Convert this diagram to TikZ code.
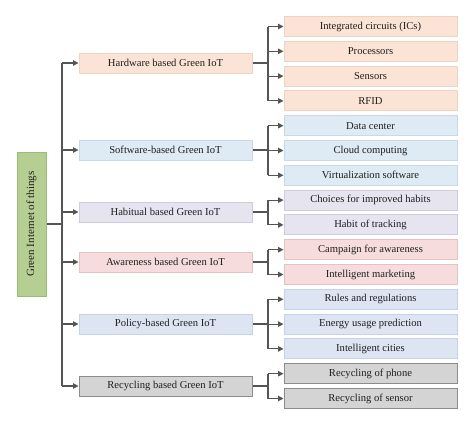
\documentclass[tikz,border=0pt]{standalone}
\usepackage{fontspec}
\setmainfont{Liberation Serif}
\usetikzlibrary{arrows.meta}
\definecolor{peachF}{HTML}{FBE4D5}\definecolor{peachD}{HTML}{EED3C0}
\definecolor{blueF}{HTML}{DEEAF4}\definecolor{blueD}{HTML}{C9D9E8}
\definecolor{lavF}{HTML}{E6E4EF}\definecolor{lavD}{HTML}{CFCCDD}
\definecolor{pinkF}{HTML}{F6DCDC}\definecolor{pinkD}{HTML}{E5C3C3}
\definecolor{polF}{HTML}{DDE5F2}\definecolor{polD}{HTML}{C6D2E5}
\definecolor{grayF}{HTML}{D4D4D4}\definecolor{grayD}{HTML}{8C8C8C}
\definecolor{greenF}{HTML}{B5CF93}\definecolor{greenD}{HTML}{9DBB77}
\definecolor{lineC}{HTML}{555555}
\tikzset{
  txt/.style={font=\fontsize{10.6}{12}\selectfont, text=black!88},
  box/.style={draw, line width=1pt, minimum height=20pt, inner sep=0pt, txt},
  midbox/.style={box, minimum width=173pt},
  leafbox/.style={box, minimum width=173pt},
  conn/.style={draw=lineC, line width=1.1pt},
  arr/.style={conn, -{Triangle[length=5.5pt,width=5.5pt]}},
  hw/.style={fill=peachF, draw=peachD},
  sw/.style={fill=blueF, draw=blueD},
  hb/.style={fill=lavF, draw=lavD},
  aw/.style={fill=pinkF, draw=pinkD},
  po/.style={fill=polF, draw=polD},
  rc/.style={fill=grayF, draw=grayD},
}
\begin{document}
\begin{tikzpicture}[x=1pt,y=-1pt]
\useasboundingbox (0,0) rectangle (474,426);
% root
\node[box, fill=greenF, draw=greenD, minimum width=29pt, minimum height=144pt] (root) at (31.5,224) {};
\node[rotate=90, font=\fontsize{11}{12}\selectfont, text=black!88] (roottxt) at (root.center) {Green Internet of things};
% trunk
\coordinate (tr) at (62,224);
\coordinate (tt) at (62,63);
\coordinate (tb) at (62,386);
\draw[conn] (root.east |- tr) -- (tr);
\draw[conn] (tt) -- (tb);
% mid nodes
\node[midbox, hw] (m1) at (165.5,63) {Hardware based Green IoT};
\node[midbox, sw] (m2) at (165.5,150) {Software-based Green IoT};
\node[midbox, hb] (m3) at (165.5,212) {Habitual based Green IoT};
\node[midbox, aw] (m4) at (165.5,262) {Awareness based Green IoT};
\node[midbox, po] (m5) at (165.5,324) {Policy-based Green IoT};
\node[midbox, rc] (m6) at (165.5,386) {Recycling based Green IoT};
\foreach \m in {m1,m2,m3,m4,m5,m6}{\draw[arr] (tt |- \m.west) -- (\m.west);}
% leaves
\node[leafbox, hw] (l1) at (370.5,26.5) {Integrated circuits (ICs)};
\node[leafbox, hw] (l2) at (370.5,51.3) {Processors};
\node[leafbox, hw] (l3) at (370.5,76.1) {Sensors};
\node[leafbox, hw] (l4) at (370.5,100.9) {RFID};
\node[leafbox, sw] (l5) at (370.5,125.7) {Data center};
\node[leafbox, sw] (l6) at (370.5,150.5) {Cloud computing};
\node[leafbox, sw] (l7) at (370.5,175.3) {Virtualization software};
\node[leafbox, hb] (l8) at (370.5,200.1) {Choices for improved habits};
\node[leafbox, hb] (l9) at (370.5,224.9) {Habit of tracking};
\node[leafbox, aw] (l10) at (370.5,249.7) {Campaign for awareness};
\node[leafbox, aw] (l11) at (370.5,274.5) {Intelligent marketing};
\node[leafbox, po] (l12) at (370.5,299.3) {Rules and regulations};
\node[leafbox, po] (l13) at (370.5,324.1) {Energy usage prediction};
\node[leafbox, po] (l14) at (370.5,348.9) {Intelligent cities};
\node[leafbox, rc] (l15) at (370.5,373.7) {Recycling of phone};
\node[leafbox, rc] (l16) at (370.5,398.5) {Recycling of sensor};
% buses
\coordinate (bx) at (268,0);
\foreach \m/\a/\b/\ls in {m1/l1/l4/{l1,l2,l3,l4}, m2/l5/l7/{l5,l6,l7}, m3/l8/l9/{l8,l9}, m4/l10/l11/{l10,l11}, m5/l12/l14/{l12,l13,l14}, m6/l15/l16/{l15,l16}}{
  \draw[conn] (\m.east) -- (bx |- \m.east);
  \draw[conn] (bx |- \a.west) -- (bx |- \b.west);
  \foreach \l in \ls {\draw[arr] (bx |- \l.west) -- (\l.west);}
}
\end{tikzpicture}
\end{document}
